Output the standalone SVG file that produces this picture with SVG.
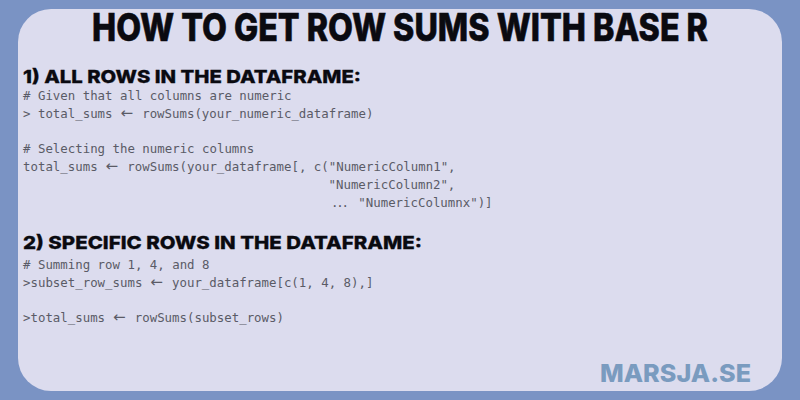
<svg xmlns="http://www.w3.org/2000/svg" width="800" height="400" viewBox="0 0 800 400">
<style>
.h{font-family:"Inter","Liberation Sans",sans-serif;font-weight:800;fill:#0a0a10}
.c{font-family:"DejaVu Sans Mono","Liberation Mono",monospace;font-size:12.4px;fill:#5a5b66;white-space:pre}
.a{font-family:"DejaVu Sans","Liberation Sans",sans-serif;font-size:15px;fill:#5a5b66}
</style>
<rect width="800" height="400" fill="#7a93c4"/>
<rect x="18" y="9" width="764" height="382" rx="33" ry="33" fill="#dcdcee"/>
<text class="h" transform="translate(92 41) scale(.85 1)" x="0" y="0" font-size="38" textLength="724.7" lengthAdjust="spacingAndGlyphs" stroke="#0a0a10" stroke-width="0.6">HOW TO GET ROW SUMS WITH BASE R</text>
<text class="h" x="23" y="83" font-size="18" textLength="338" lengthAdjust="spacingAndGlyphs" stroke="#0a0a10" stroke-width="0.3">1) ALL ROWS IN THE DATAFRAME:</text>
<text class="c" x="23" y="100"># Given that all columns are numeric</text>
<text class="c" y="118"><tspan x="23">&gt; total_sums</tspan><tspan class="a" x="120.5">←</tspan><tspan x="142.2">rowSums(your_numeric_dataframe)</tspan></text>
<text class="c" x="23" y="153"># Selecting the numeric columns</text>
<text class="c" y="171"><tspan x="23">total_sums</tspan><tspan class="a" x="105.6">←</tspan><tspan x="127.35">rowSums(your_dataframe[, c("NumericColumn1",</tspan></text>
<text class="c" x="328.5" y="189">"NumericColumn2",</text>
<text class="c" y="207"><tspan x="331" letter-spacing="-2.2">...</tspan><tspan x="358.3">"NumericColumnx")]</tspan></text>
<text class="h" x="23" y="249" font-size="18" textLength="399" lengthAdjust="spacingAndGlyphs" stroke="#0a0a10" stroke-width="0.3">2) SPECIFIC ROWS IN THE DATAFRAME:</text>
<text class="c" x="23" y="269"># Summing row 1, 4, and 8</text>
<text class="c" y="287"><tspan x="23">&gt;subset_row_sums</tspan><tspan class="a" x="150.3">←</tspan><tspan x="172">your_dataframe[c(1, 4, 8),]</tspan></text>
<text class="c" y="322"><tspan x="23">&gt;total_sums</tspan><tspan class="a" x="113">←</tspan><tspan x="134.75">rowSums(subset_rows)</tspan></text>
<text class="h" x="600" y="382" font-size="25" textLength="151" lengthAdjust="spacingAndGlyphs" style="fill:#7a9bbf">MARSJA.SE</text>
</svg>
